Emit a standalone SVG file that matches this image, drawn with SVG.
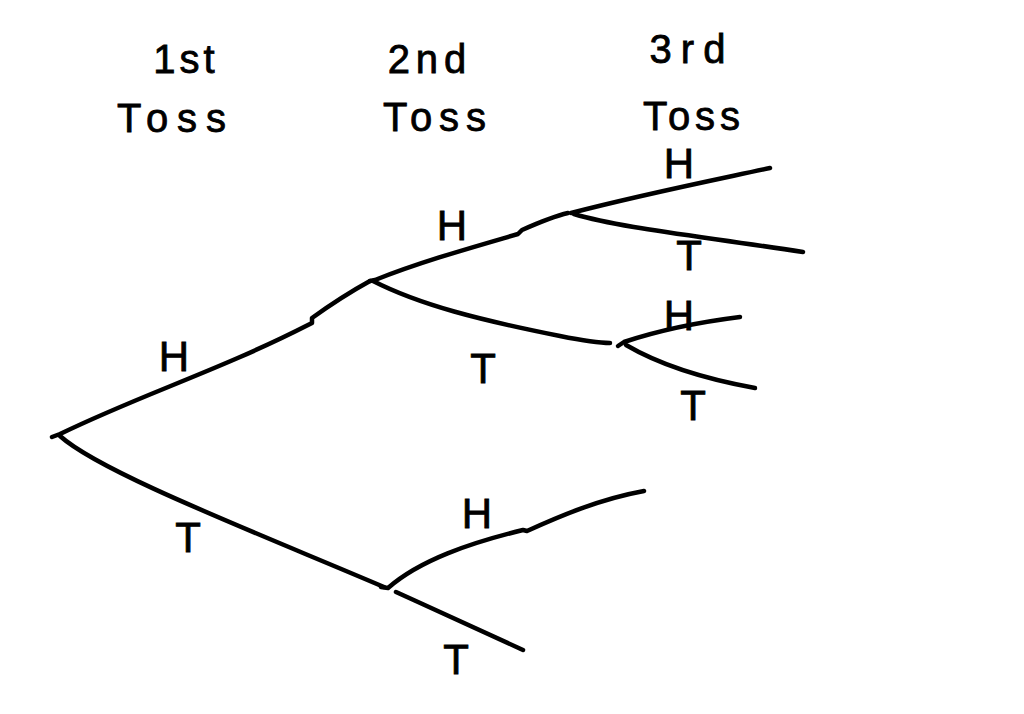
<svg xmlns="http://www.w3.org/2000/svg" width="1024" height="714" viewBox="0 0 1024 714">
<style>
.e{fill:none;stroke:#000;stroke-width:4.5;stroke-linecap:round;stroke-linejoin:round}
.h{font-family:"Liberation Sans",Arial,sans-serif;font-size:40px;fill:#000;stroke:#000;stroke-width:0.8;text-anchor:middle}
.l{font-family:"Liberation Sans",Arial,sans-serif;font-size:42px;fill:#000;stroke:#000;stroke-width:0.8;text-anchor:middle}
</style>
<rect width="1024" height="714" fill="#fff"/>
<g id="headers">
<text class="h" x="186" y="73" letter-spacing="4">1st</text>
<text class="h" x="176" y="132" letter-spacing="9">Toss</text>
<text class="h" x="430" y="73" letter-spacing="6">2nd</text>
<text class="h" x="438" y="131" letter-spacing="7">Toss</text>
<text class="h" x="692" y="63" letter-spacing="9">3rd</text>
<text class="h" x="694" y="130" letter-spacing="5">Toss</text>
</g>
<g id="connectors">
<path class="e" d="M52,437 L60,434 C140,395 220,370 308,325 L312,323 L312,318 C330,305 350,292 370,281"/>
<path class="e" d="M60,436 C100,472 250,530 384,587"/>
<path class="e" d="M370,281 L375,280 C420,262 470,248 518,234 L522,230 C540,222 555,216 568,213"/>
<path class="e" d="M373,281 C420,305 480,320 560,336 C580,340 595,343 610,343"/>
<path class="e" d="M571,213 C640,195 700,183 770,168"/>
<path class="e" d="M574,214 C620,228 700,236 803,252"/>
<path class="e" d="M618,346 L624,342 C660,330 700,322 740,317"/>
<path class="e" d="M626,345 C660,365 700,378 755,388"/>
<path class="e" d="M381,587 L388,588 C420,560 470,543 523,530 L527,531 C560,516 600,499 644,491"/>
<path class="e" d="M396,592 C440,612 485,633 523,650"/>
</g>
<g id="labels">
<text class="l" x="174" y="371">H</text>
<text class="l" x="188" y="552">T</text>
<text class="l" x="452" y="240">H</text>
<text class="l" x="483" y="383">T</text>
<text class="l" x="679" y="178">H</text>
<text class="l" x="689" y="270">T</text>
<text class="l" x="679" y="330">H</text>
<text class="l" x="693" y="420">T</text>
<text class="l" x="477" y="528">H</text>
<text class="l" x="456" y="674">T</text>
</g>
</svg>
